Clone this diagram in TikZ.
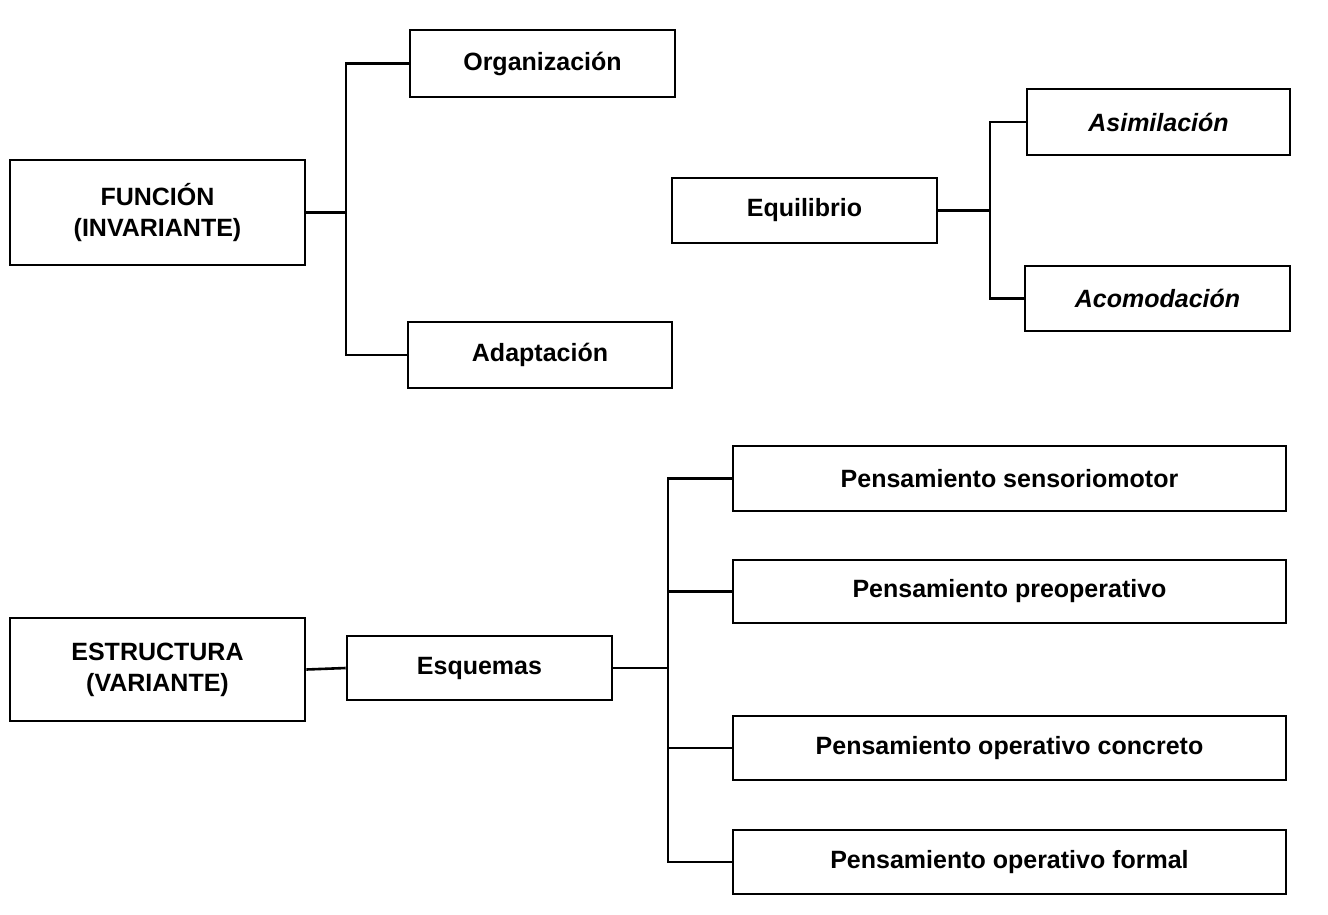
\documentclass[tikz,border=0pt]{standalone}
\usepackage{fontspec}
\setmainfont{Liberation Sans}
\begin{document}
\begin{tikzpicture}[x=1pt,y=-1pt,
  box/.style={draw,line width=2.6pt,inner sep=0pt,align=center,font=\fontsize{25}{31}\selectfont\bfseries},
  ln/.style={line width=2.6pt}]
\useasboundingbox (0,0) rectangle (1328,914);
\newcommand{\bx}[6]{\node[box,minimum width=#4-#2,minimum height=#5-#3] (#1) at ({(#2+#4)/2},{(#3+#5)/2}) {#6};}
\bx{fun}{10}{160}{305}{265}{FUNCIÓN\\(INVARIANTE)}
\bx{org}{410}{30}{675}{97}{Organización}
\bx{ada}{408}{322}{672}{388}{Adaptación}
\bx{equ}{672}{178}{937}{243}{Equilibrio}
\bx{asi}{1027}{89}{1290}{155}{\itshape Asimilación}
\bx{aco}{1025}{266}{1290}{331}{\itshape Acomodación}
\bx{est}{10}{618}{305}{721}{ESTRUCTURA\\(VARIANTE)}
\bx{esq}{347}{636}{612}{700}{Esquemas}
\bx{p1}{733}{446}{1286}{511}{Pensamiento sensoriomotor}
\bx{p2}{733}{560}{1286}{623}{Pensamiento preoperativo}
\bx{p3}{733}{716}{1286}{780}{Pensamiento operativo concreto}
\bx{p4}{733}{830}{1286}{894}{Pensamiento operativo formal}
\draw[ln] (fun.east) -- (346,212.5);
\draw[ln] (org.west) -| (346,212.5) |- (ada.west);
\draw[ln] (equ.east) -- (990,210.5);
\draw[ln] (asi.west) -| (990,210.5) |- (aco.west);
\draw[ln] (est.east) -- (esq.west);
\draw[ln] (esq.east) -- (668,668);
\draw[ln] (p1.west) -| (668,668) |- (p4.west);
\draw[ln] (p2.west) -- (p2.west-|668,0);
\draw[ln] (p3.west) -- (p3.west-|668,0);
\end{tikzpicture}
\end{document}
